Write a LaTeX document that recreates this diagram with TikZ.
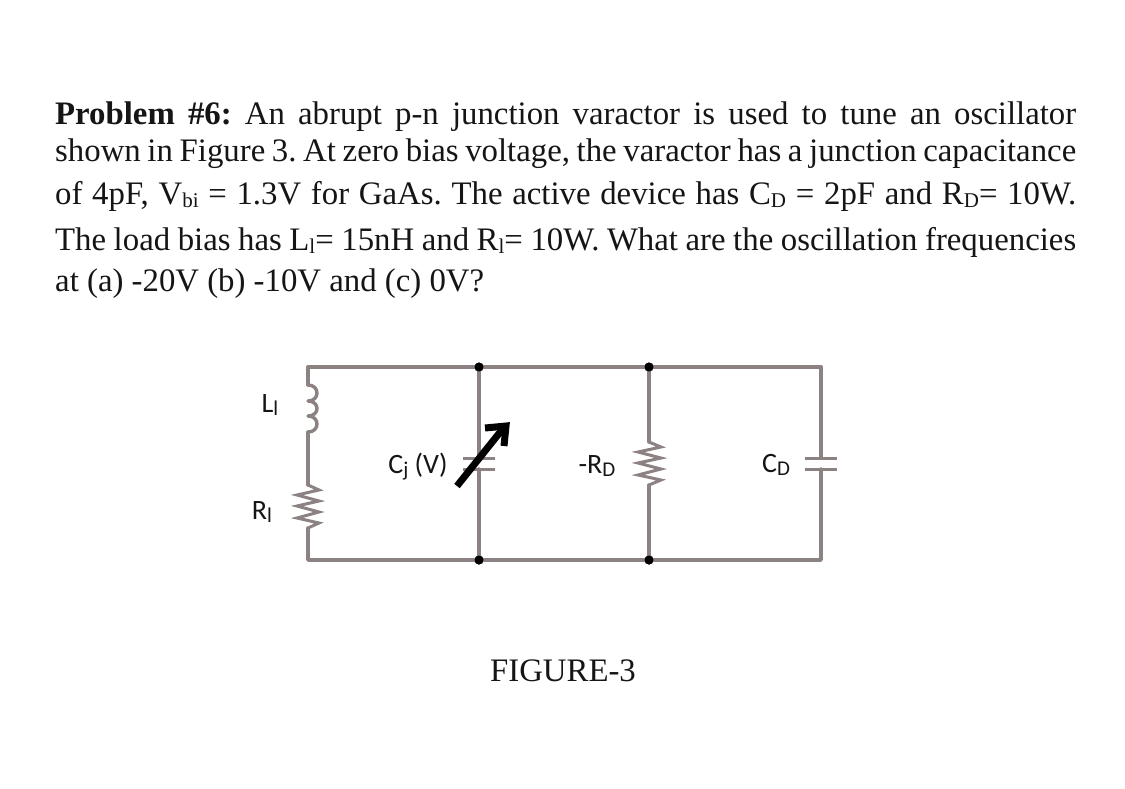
\documentclass[tikz,border=0pt]{standalone}
\usepackage{fontspec}
\setmainfont{Liberation Serif}
\newfontfamily\lblfont{Carlito}
\newcommand{\tsb}[1]{\raisebox{-3.5pt}{\fontsize{21}{21}\selectfont #1}}
\newcommand{\lsb}[1]{\raisebox{-3pt}{\fontsize{21}{21}\selectfont #1}}
\definecolor{wire}{HTML}{8C8282}
\definecolor{ink}{HTML}{151515}
\tikzset{
  wireline/.style={draw=wire,line width=3.4pt,line join=round,line cap=round},
  compline/.style={draw=wire,line width=3pt,line join=miter},
  dotnode/.style={circle,fill=black,inner sep=0pt,minimum size=9pt},
  txtline/.style={anchor=base west,inner sep=0pt,text=ink,font=\fontsize{32.8}{38}\selectfont},
  lbl/.style={inner sep=0pt,text=ink,font=\lblfont\fontsize{28}{32}\selectfont},
  arrowline/.style={draw=black,line width=7pt,line join=miter,line cap=butt}
}
\begin{document}
\begin{tikzpicture}[x=1pt,y=-1pt]
\useasboundingbox (0,0) rectangle (1125,788);
\fill[white] (0,0) rectangle (1125,788);
% text
\frenchspacing
\node[txtline] (t1) at (55,124) {\hbox to 1021pt{\textbf{Problem \#6:} An abrupt p-n junction varactor is used to tune an oscillator}};
\node[txtline] (t2) at (55,161) {\hbox to 1021pt{shown in Figure 3. At zero bias voltage, the varactor has a junction capacitance}};
\node[txtline] (t3) at (55,204) {\hbox to 1021pt{of 4pF, V\tsb{bi} = 1.3V for GaAs. The active device has C\tsb{D} = 2pF and R\tsb{D}= 10W.}};
\node[txtline] (t4) at (55,250) {\hbox to 1021pt{The load bias has L\tsb{l}= 15nH and R\tsb{l}= 10W. What are the oscillation frequencies}};
\node[txtline] (t5) at (55,291) {at (a) -20V (b) -10V and (c) 0V?};
\node[txtline,anchor=base] (fig) at (563,681) {FIGURE-3};
% junctions
\coordinate (tl) at (308,367);
\coordinate (bl) at (308,560);
\coordinate (tr) at (821,367);
\coordinate (br) at (821,560);
\node[dotnode] (j1) at (479,367) {};
\node[dotnode] (j2) at (479,560) {};
\node[dotnode] (j3) at (649,367) {};
\node[dotnode] (j4) at (649,560) {};
\coordinate (la) at (308,385);
\coordinate (lb) at (308,432);
\coordinate (ra) at (308,485);
\coordinate (rb) at (308,528);
\coordinate (ca) at (479,458);
\coordinate (cb) at (479,469);
\coordinate (da) at (649,442);
\coordinate (db) at (649,485);
\coordinate (ea) at (821,458);
\coordinate (eb) at (821,469);
% wires
\draw[wireline] (la) -- (tl) -- (j1.center) -- (j3.center) -- (tr) -- (ea);
\draw[wireline] (rb) -- (bl) -- (j2.center) -- (j4.center) -- (br) -- (eb);
\draw[wireline] (lb) -- (ra);
\draw[wireline] (j1.center) -- (ca);
\draw[wireline] (j2.center) -- (cb);
\draw[wireline] (j3.center) -- (da);
\draw[wireline] (j4.center) -- (db);
\node[dotnode] at (j1) {};
\node[dotnode] at (j2) {};
\node[dotnode] at (j3) {};
\node[dotnode] at (j4) {};
% inductor
\draw[wireline] (la) .. controls (320,385) and (320,401) .. (308,401)
  .. controls (320,401) and (320,416) .. (308,416)
  .. controls (320,416) and (320,432) .. (308,432);
% load resistor
\draw[compline] (ra) -- (319,490) -- (297,495) -- (319,501) -- (297,506) -- (319,512) -- (297,518) -- (319,523) -- (rb);
% -RD resistor
\draw[compline] (da) -- (661,447) -- (638,452) -- (661,458) -- (638,463) -- (661,469) -- (638,475) -- (661,480) -- (db);
% capacitors
\draw[compline] (463,458) -- (495,458);
\draw[compline] (463,469) -- (495,469);
\draw[compline] (805,458) -- (837,458);
\draw[compline] (805,469) -- (837,469);
% tuning arrow
\coordinate (as) at (457,486);
\coordinate (ae) at (505,426);
\draw[arrowline] (as) -- (ae);
\draw[arrowline] (485,428) -- (506,426) -- (504,446);
% labels
\node[lbl] (ll) at (270,405) {L\lsb{l}};
\node[lbl] (rl) at (262,512) {R\lsb{l}};
\node[lbl] (cj) at (418,467) {C\lsb{j} (V)};
\node[lbl] (rd) at (597,466) {-R\lsb{D}};
\node[lbl] (cd) at (776,465) {C\lsb{D}};
\end{tikzpicture}
\end{document}
